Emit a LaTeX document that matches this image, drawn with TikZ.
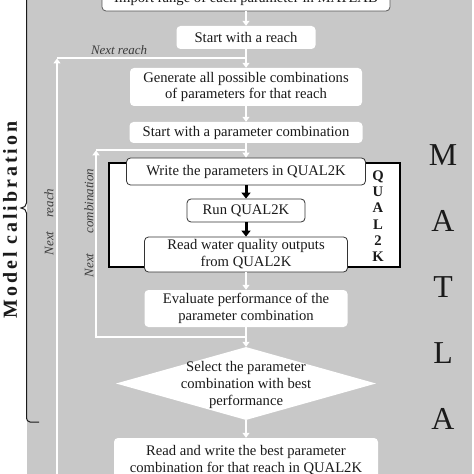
\documentclass[tikz,border=0pt]{standalone}
\usepackage{fontspec}
\setmainfont{Liberation Serif}
\newfontfamily\spacedserif[LetterSpace=15]{Liberation Serif}
\usepackage{xcolor}
\usetikzlibrary{arrows.meta,shapes.geometric,calc}

\definecolor{matgray}{HTML}{C8C8C8}
\definecolor{ink}{HTML}{1A1A1A}

\begin{document}
\begin{tikzpicture}[x=1bp, y=-1bp,
  box/.style={fill=white, rounded corners=4bp, align=center, inner sep=0pt,
              font=\fontsize{14.7}{17}\selectfont, text=ink},
  qbox/.style={box, draw=black!80, line width=0.8bp},
  qframe/.style={draw=black, line width=1.6bp, fill=white, inner sep=0pt},
  decision/.style={diamond, fill=white, inner sep=0pt, minimum width=260bp, minimum height=73bp},
  war/.style={draw=white, line width=2bp, -{Triangle[length=5bp,width=7bp]}},
  wln/.style={draw=white, line width=2bp},
  bar/.style={draw=black, line width=3bp, -{Triangle[length=6bp,width=9bp]}},
  lbl/.style={font=\fontsize{13}{15}\selectfont\itshape, text=ink!85, inner sep=0pt},
  big/.style={font=\fontsize{32}{32}\selectfont, text=ink, inner sep=0pt}
]
\useasboundingbox (0,0) rectangle (474,474);
\fill[white] (0,0) rectangle (474,474);
\fill[matgray] (27,-5) rectangle (472,480);

% --- main column ---------------------------------------------------------
\node[box, draw=black!65, line width=0.8bp, minimum width=288bp, minimum height=24bp] (imp) at (246,-1) {Import range of each parameter in MATLAB};
\node[box, minimum width=139bp, minimum height=23bp] (reach) at (246,37.5) {Start with a reach};
\node[box, minimum width=232bp, minimum height=38bp] (gen) at (246,87) {Generate all possible combinations\\of parameters for that reach};
\node[box, minimum width=233bp, minimum height=21bp] (comb) at (246,132.5) {Start with a parameter combination};
\node[qframe, minimum width=291bp, minimum height=104bp] (q2k) at (254.5,215) {};
\node[qbox, minimum width=239bp, minimum height=27bp] (wr) at (246,171.5) {Write the parameters in QUAL2K};
\node[qbox, minimum width=118bp, minimum height=23bp] (run) at (246,210.5) {Run QUAL2K};
\node[qbox, minimum width=203bp, minimum height=35bp] (rd) at (246,254.5) {Read water quality outputs\\from QUAL2K};
\node[box, minimum width=203bp, minimum height=37bp] (eval) at (246,308.5) {Evaluate performance of the\\parameter combination};
\node[decision] (sel) at (246,383.5) {};
\node[box, fill=none] (seltxt) at (246,385) {Select the parameter\\combination with best\\performance};
\node[box, minimum width=264bp, minimum height=44bp] (best) at (246,460) {Read and write the best parameter\\combination for that reach in QUAL2K};

\draw[war] (imp) -- (reach);
\draw[war] (reach) -- (gen);
\draw[war] (gen) -- (comb);
\draw[war] (comb) -- (wr);
\draw[bar] (wr) -- (run);
\draw[bar] (run) -- (rd);
\draw[war] (rd) -- (eval);
\draw[war] (eval) -- (sel);
\draw[war] (sel) -- (best);

% --- loops ---------------------------------------------------------------
\coordinate (nrjoin) at ($(reach.south)!0.5!(gen.north)$);
\coordinate (nrbot)  at (57,490);
\coordinate (ncjoin) at ($(comb.south)!0.5!(wr.north)$);
\coordinate (ncfork) at ($(eval.south)!0.5!(sel.north)$);
\coordinate (ncx)    at (96,0);

\draw[war] (nrbot) -- (nrbot |- nrjoin);
\draw[wln] (nrbot |- nrjoin) -- (nrjoin);
\draw[war] (ncfork) -- (ncfork -| ncx) -- (ncx |- ncjoin);
\draw[wln] (ncx |- ncjoin) -- (ncjoin);

\node[lbl] (nrlbl) at (119,50) {Next reach};
\node[lbl, rotate=90] (nrvert) at (49,222) {Next\hspace{14bp}reach};
\node[lbl, rotate=90] (ncvert) at (89,223) {Next\hspace{20bp}combination};

% --- side labels ---------------------------------------------------------
\node[font=\fontsize{14.7}{16.4}\selectfont\bfseries, text=ink, align=center, inner sep=0pt] (qlab) at (378,216) {Q\\U\\A\\L\\2\\K};
\foreach \ch [count=\i] in {M,A,T,L,A,B}
  \node[big] (mat\i) at (443,{155+66*(\i-1)}) {\ch};

\node[rotate=90, font=\spacedserif\bfseries\fontsize{20}{20}\selectfont, text=ink, inner sep=0pt] (mcal) at (10,220) {Model calibration};
\draw[ink, line width=1bp] (39,422) -- (30,422) to[out=180,in=-90] (26.5,418) -- (26.5,213)
  to[out=90,in=0] (21,208) to[out=0,in=-90] (26.5,203) -- (26.5,-10);
\end{tikzpicture}
\end{document}
